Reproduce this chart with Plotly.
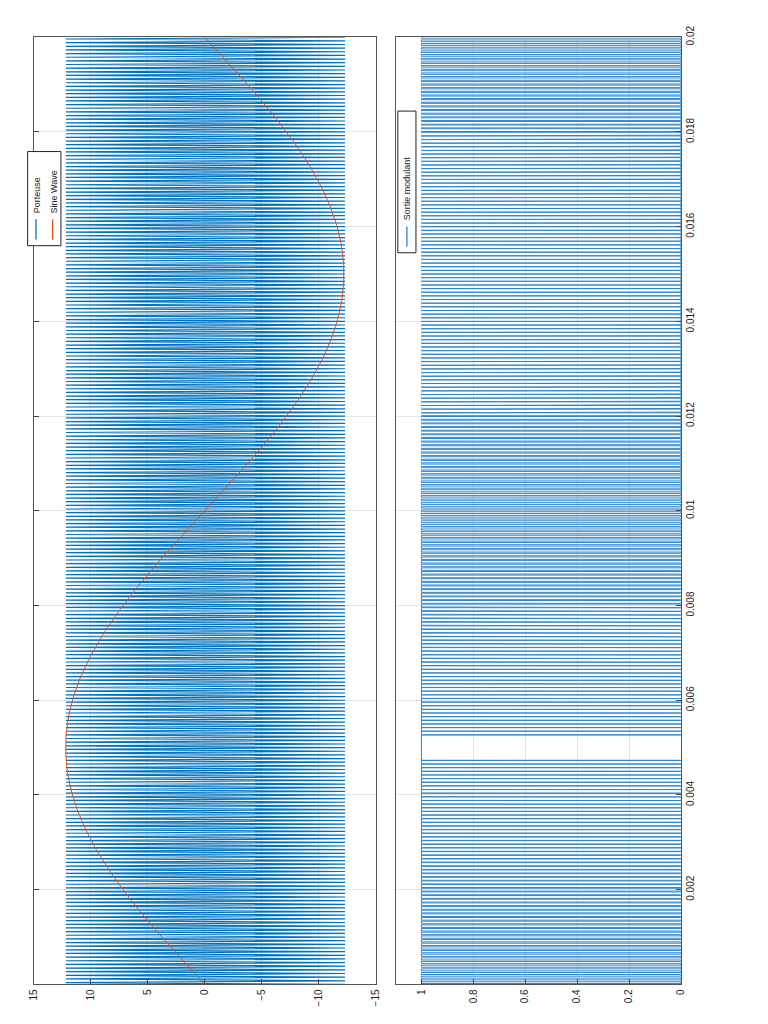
import numpy as np
import plotly.graph_objects as go

# signal parameters
t_end = 0.02
carrier_top = 12.18
carrier_bottom = -12.3
carrier_freq = 13000.0
sine_amp = 12.2
sine_freq = 50.0

value_ticks = [15, 10, 5, 0, -5, -10, -15]
out_ticks = [1, 0.8, 0.6, 0.4, 0.2, 0]
time_ticks = [0.002, 0.004, 0.006, 0.008, 0.01, 0.012, 0.014, 0.016, 0.018, 0.02]

# carrier triangle vertices
n_half = int(t_end * carrier_freq * 2)
t_car = np.arange(n_half + 1) / (2 * carrier_freq)
v_car = np.where(np.arange(n_half + 1) % 2 == 0, carrier_bottom, carrier_top)

t_sin = np.linspace(0, t_end, 400)
v_sin = sine_amp * np.sin(2 * np.pi * sine_freq * t_sin)

# comparator output
t_f = np.linspace(0, t_end, 400001)
car_f = np.interp(t_f, t_car, v_car)
out_f = (sine_amp * np.sin(2 * np.pi * sine_freq * t_f) > car_f).astype(float)
xs, ys = [out_f[0]], [0.0]
for i in np.nonzero(np.diff(out_f))[0]:
    xs += [out_f[i], out_f[i + 1]]
    ys += [t_f[i + 1], t_f[i + 1]]
xs.append(out_f[-1]); ys.append(t_end)

fig = go.Figure()
fig.add_trace(go.Scatter(x=v_car, y=t_car, mode="lines", line=dict(color="#0072BD", width=1.2),
                         xaxis="x", yaxis="y"))
fig.add_trace(go.Scatter(x=v_sin, y=t_sin, mode="lines", line=dict(color="#D95319", width=1),
                         xaxis="x", yaxis="y"))
fig.add_trace(go.Scatter(x=xs, y=ys, mode="lines", line=dict(color="#2f86cc", width=1),
                         xaxis="x2", yaxis="y2"))

ax_common = dict(showgrid=True, gridcolor="#e6e6e6", showline=True, linecolor="#555",
                 mirror=True, ticks="inside", ticklen=5, tickcolor="#444", zeroline=False,
                 tickfont=dict(family="Liberation Sans", size=10, color="#222"), tickangle=-90)
fig.update_layout(
    width=768, height=1024, margin=dict(l=0, r=0, t=0, b=0),
    plot_bgcolor="white", paper_bgcolor="white", showlegend=False,
    xaxis=dict(ax_common, domain=[0.026, 0.478], range=[15, -15], tickvals=value_ticks, anchor="y"),
    yaxis=dict(ax_common, domain=[0.047, 0.983], range=[0, t_end], tickvals=time_ticks,
               showticklabels=False, anchor="x"),
    xaxis2=dict(ax_common, domain=[0.504, 0.881], range=[1.1, 0], tickvals=out_ticks, anchor="y2"),
    yaxis2=dict(ax_common, domain=[0.047, 0.983], range=[0, t_end], tickvals=time_ticks,
                side="right", anchor="x2"),
)

# rotated legends
def legend_box(x0, x1, y0, y1, items, shift):
    fig.add_shape(type="rect", xref="paper", yref="paper", x0=x0, x1=x1, y0=y0, y1=y1,
                  line=dict(color="#222", width=1), fillcolor="white")
    n = len(items)
    for k, (name, col) in enumerate(items):
        xc = x0 + (x1 - x0) * (k + 0.5) / n
        fig.add_shape(type="line", xref="paper", yref="paper", x0=xc, x1=xc,
                      y0=y0 + 0.006, y1=y0 + 0.026, line=dict(color=col, width=1.3))
        fig.add_annotation(xref="paper", yref="paper", x=xc, y=y0 + 0.03, text=name,
                           showarrow=False, textangle=-90, yanchor="bottom", xshift=shift,
                           font=dict(family="Liberation Sans", size=9, color="#222"))

legend_box(0.018, 0.062, 0.777, 0.87, [("Porteuse", "#0072BD"), ("Sine Wave", "#D95319")], -6)
legend_box(0.507, 0.531, 0.77, 0.91, [("Sortie modulant", "#2f86cc")], 1)

fig.write_html("out.html")
